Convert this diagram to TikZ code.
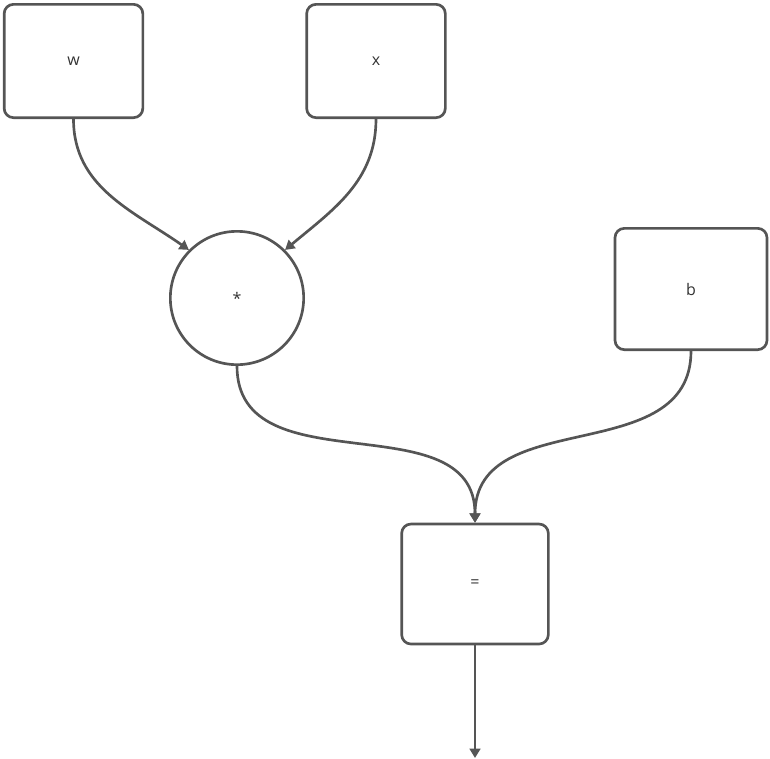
\documentclass[tikz,border=0pt]{standalone}
\usepackage{fontspec}
\setmainfont{Open Sans}
\usetikzlibrary{arrows.meta}
\definecolor{edge}{HTML}{555555}
\begin{document}
\begin{tikzpicture}[
		x=0.75pt, y=-0.75pt,
		line join=round,
		box/.style={draw=edge, line width=2pt, rounded corners=7pt, inner sep=0pt, font=\large\color{black!80}},
		op/.style={draw=edge, line width=2pt, circle, minimum size=100pt, inner sep=0pt, font=\large\color{black!80}},
		link/.style={draw=edge, line width=2pt, -{Triangle[length=7pt,width=8pt]}}
	]
	\useasboundingbox (0,0) rectangle (770,758);

	% Inputs
	\node[box, minimum width=104pt, minimum height=85pt] (w) at (73.5,61) {w};
	\node[box, minimum width=104pt, minimum height=85pt] (x) at (376,61) {x};
	\node[box, minimum width=114pt, minimum height=91pt] (b) at (691,289) {b};

	% Operations
	\node[op] (mul) at (237,298) {*};
	\node[box, minimum width=110pt, minimum height=90pt] (eq) at (475,584) {=};
	\coordinate (out) at (475,758);

	% Connectors
	\draw[link] (w.south) to[out=-90, in=145] (mul.135);
	\draw[link] (x.south) to[out=-90, in=40] (mul.45);
	\draw[link] (mul.south) to[out=-90, in=90, looseness=1.1] (eq.north);
	\draw[link] (b.south) to[out=-90, in=90, looseness=1.1] (eq.north);
	\draw[link] (eq.south) -- (out);

\end{tikzpicture}
\end{document}
